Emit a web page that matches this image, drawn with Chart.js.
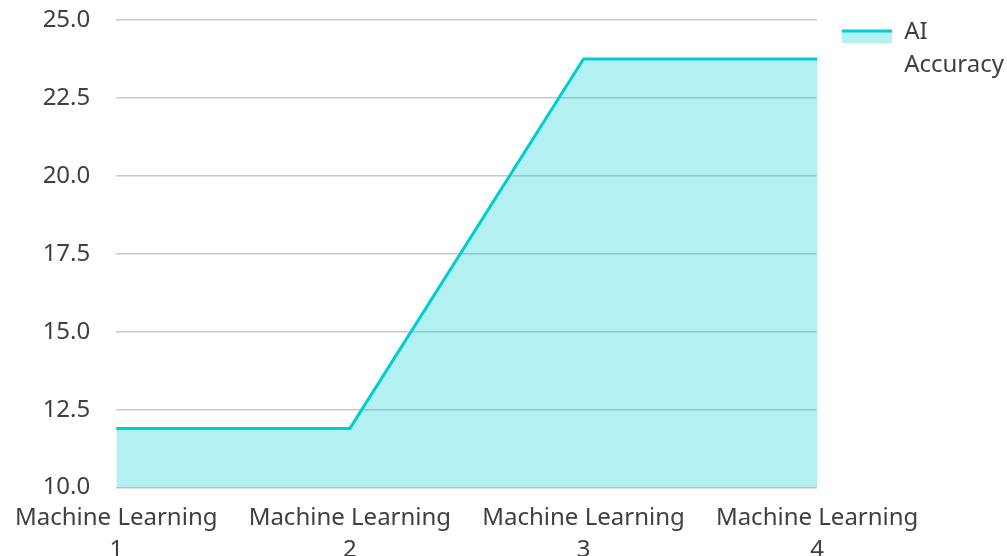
<!DOCTYPE html>
<html>
<head>
<meta charset="utf-8">
<script src="https://cdn.jsdelivr.net/npm/chart.js@4"></script>
<style>
  html, body { margin: 0; padding: 0; background: #fff; }
  #wrap { width: 1007px; height: 556px; }
</style>
</head>
<body>
<div id="wrap"><canvas id="myChart"></canvas></div>
<script>
const categories = [["Machine Learning", "1"], ["Machine Learning", "2"], ["Machine Learning", "3"], ["Machine Learning", "4"]];
const seriesName = ["AI", "Accuracy"];
const accuracy = [11.9, 11.9, 23.75, 23.75];
const yTicks = [10, 12.5, 15, 17.5, 20, 22.5, 25];

const lineColor = "#00cfcf";
const fillColor = "rgba(0, 206, 209, 0.3)";

Chart.defaults.font.family = "'Noto Sans', sans-serif";
Chart.defaults.font.size = 24;
Chart.defaults.color = "#404040";

// legend swatch: thick line on top, fill under it (top part left empty to push it down)
function makeSwatch() {
  const c = document.createElement("canvas");
  c.width = 50;
  c.height = 21;
  const g = c.getContext("2d");
  g.fillStyle = fillColor;
  g.fillRect(0, 8, 50, 13);
  g.fillStyle = lineColor;
  g.fillRect(0, 8, 50, 3);
  return c;
}
const swatch = makeSwatch();

new Chart("myChart", {
  type: "line",
  data: {
    labels: categories,
    datasets: [
      {
        label: "AI Accuracy",
        data: accuracy,
        borderColor: lineColor,
        backgroundColor: fillColor,
        borderWidth: 3,
        fill: true,
        pointRadius: 0,
        tension: 0,
      },
    ],
  },
  options: {
    responsive: true,
    maintainAspectRatio: false,
    animation: false,
    layout: {
      padding: { top: -5, right: -7, bottom: -25, left: 15 },
    },
    scales: {
      x: {
        offset: false,
        grid: { display: false, drawTicks: false },
        border: { display: false },
        ticks: { maxRotation: 0, padding: 15, font: { lineHeight: 1.32 } },
      },
      y: {
        min: yTicks[0],
        max: yTicks[yTicks.length - 1],
        border: { display: false },
        grid: { color: "#c8c8c8", lineWidth: 1.5, drawTicks: false },
        ticks: {
          stepSize: 2.5,
          padding: 26,
          callback: (v) => v.toFixed(1),
        },
        afterFit: (scale) => {
          scale.paddingTop = 20;
        },
      },
    },
    plugins: {
      legend: {
        position: "right",
        align: "start",
        labels: {
          usePointStyle: true,
          pointStyleWidth: 50,
          boxHeight: 13,
          padding: 25,
          font: { lineHeight: 1.38 },
          generateLabels: (chart) => {
            const items = Chart.defaults.plugins.legend.labels.generateLabels(chart);
            items.forEach((it) => {
              it.text = seriesName;
              it.pointStyle = swatch;
            });
            return items;
          },
        },
      },
      tooltip: { enabled: false },
    },
  },
});
</script>
</body>
</html>
